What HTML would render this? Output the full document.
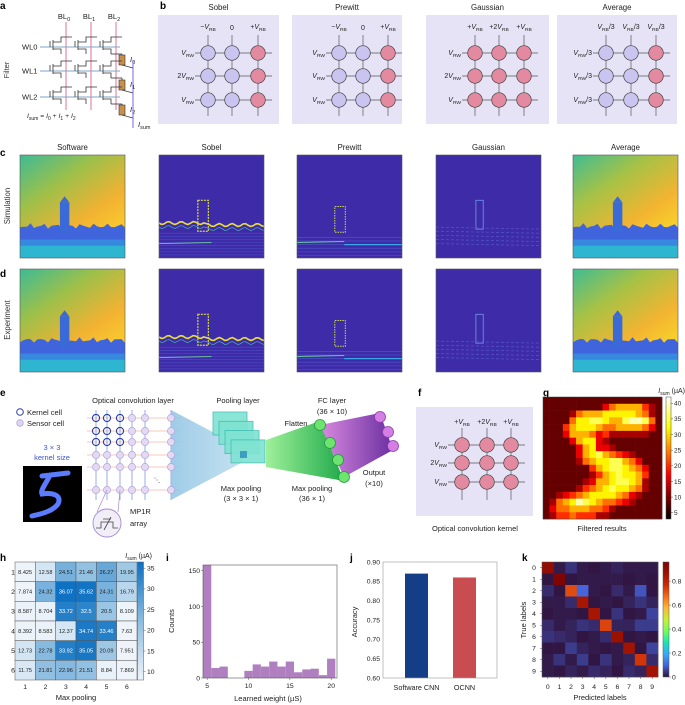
<!DOCTYPE html>
<html><head><meta charset="utf-8">
<style>
html,body{margin:0;padding:0;background:#fff;}
svg{display:block;font-family:"Liberation Sans",sans-serif;}
</style></head>
<body>
<svg id="fig" width="685" height="705" viewBox="0 0 685 705" xmlns="http://www.w3.org/2000/svg">
<defs>
  <linearGradient id="swGrad" x1="0" y1="0" x2="0.7" y2="1">
    <stop offset="0" stop-color="#3dbb95"/><stop offset="0.35" stop-color="#9cc04a"/><stop offset="0.7" stop-color="#f2b232"/><stop offset="1" stop-color="#fcd12c"/>
  </linearGradient>
  <linearGradient id="avGrad" x1="0" y1="0" x2="0.7" y2="1">
    <stop offset="0" stop-color="#3fbd92"/><stop offset="0.35" stop-color="#a6c246"/><stop offset="0.7" stop-color="#f3b431"/><stop offset="1" stop-color="#fadc28"/>
  </linearGradient>
  <linearGradient id="blueWedge" x1="0" y1="0" x2="1" y2="0">
    <stop offset="0" stop-color="#8fc3e3"/><stop offset="1" stop-color="#b9dced"/>
  </linearGradient>
  <linearGradient id="greenWedge" x1="0" y1="0" x2="1" y2="0">
    <stop offset="0" stop-color="#9ff09a"/><stop offset="1" stop-color="#1fa94a"/>
  </linearGradient>
  <linearGradient id="purpleWedge" x1="0" y1="0" x2="1" y2="0">
    <stop offset="0" stop-color="#d98ae0"/><stop offset="1" stop-color="#6a2fa0"/>
  </linearGradient>
  <linearGradient id="turboBar" x1="0" y1="1" x2="0" y2="0">
    <stop offset="0" stop-color="#30123b"/><stop offset="0.1" stop-color="#4662d7"/><stop offset="0.2" stop-color="#36aaf9"/><stop offset="0.3" stop-color="#1ae4b6"/><stop offset="0.4" stop-color="#72fe5e"/><stop offset="0.5" stop-color="#c7ef34"/><stop offset="0.6" stop-color="#fbb938"/><stop offset="0.7" stop-color="#f66b19"/><stop offset="0.8" stop-color="#ca2a04"/><stop offset="0.9" stop-color="#a11201"/><stop offset="1" stop-color="#7a0403"/>
  </linearGradient>
  <linearGradient id="hotBar" x1="0" y1="1" x2="0" y2="0">
    <stop offset="0" stop-color="#000"/><stop offset="0.37" stop-color="#f00"/><stop offset="0.75" stop-color="#ff0"/><stop offset="1" stop-color="#fff"/>
  </linearGradient>
  <linearGradient id="bluesBar" x1="0" y1="1" x2="0" y2="0">
    <stop offset="0" stop-color="#eef4fa"/><stop offset="0.5" stop-color="#8cbde0"/><stop offset="1" stop-color="#0b6fc2"/>
  </linearGradient>
</defs>
</svg>
<script>
// ---------------- DATA ----------------
const hRowLabels=['1','2','3','4','5','6'];
const hColLabels=['1','2','3','4','5','6'];
const hValues=[
 [8.425,12.58,24.51,21.46,26.27,19.95],
 [7.874,24.32,36.07,35.62,24.31,16.79],
 [8.587,8.704,33.72,32.5,20.5,8.109],
 [8.392,8.583,12.37,34.74,33.46,7.63],
 [12.73,22.78,33.92,35.05,20.09,7.951],
 [11.75,21.81,22.96,21.51,8.84,7.869]];
const hTicks=[10,15,20,25,30,35];

const iBinCenters=[5,6,7,8,9,10,11,12,13,14,15,16,17,18,19,20];
const iCounts=[158,14,16,0,0,10,19,16,23,16,23,8,12,13,4,27];
const iXTicks=[5,10,15,20];
const iYTicks=[0,50,100,150];

const jCategories=['Software CNN','OCNN'];
const jValues=[0.87,0.86];
const jTicks=[0.60,0.65,0.70,0.75,0.80,0.85,0.90];
const jColors=['#143f86','#c94d50'];

const kLabels=['0','1','2','3','4','5','6','7','8','9'];
const kMatrix=[
 [0.90,0.01,0.04,0.01,0.005,0.01,0.02,0.01,0.01,0.01],
 [0.005,0.95,0.005,0.01,0.01,0.01,0.01,0.005,0.01,0.005],
 [0.03,0.005,0.72,0.10,0.01,0.005,0.03,0.01,0.08,0.005],
 [0.01,0.01,0.03,0.85,0.005,0.01,0.005,0.02,0.04,0.02],
 [0.005,0.01,0.01,0.005,0.85,0.005,0.04,0.005,0.01,0.06],
 [0.03,0.01,0.02,0.04,0.03,0.73,0.02,0.02,0.05,0.05],
 [0.04,0.03,0.02,0.005,0.01,0.03,0.88,0.005,0.01,0.005],
 [0.005,0.005,0.05,0.02,0.01,0.005,0.01,0.86,0.005,0.06],
 [0.01,0.04,0.01,0.05,0.005,0.04,0.01,0.02,0.75,0.03],
 [0.01,0.005,0.02,0.01,0.03,0.02,0.005,0.03,0.02,0.86]];
const kTicks=[0,0.2,0.4,0.6,0.8];

const gRows=[
 "111111111111111111",
 "111111111356666421",
 "111125666777776521",
 "111157788766899851",
 "111467776556666531",
 "111366653422222211",
 "111136773211111111",
 "111113673321111111",
 "111113678654321111",
 "111112567788653111",
 "111111146788765311",
 "111111124678776411",
 "111111236678876211",
 "111112456787765211",
 "112345677776532111",
 "125679876554321111",
 "135566655421111111",
 "124454442211111111"];
const gTicks=[5,10,15,20,25,30,35,40];

// ---------------- HELPERS ----------------
const NS='http://www.w3.org/2000/svg';
const svg=document.getElementById('fig');
function mk(tag,attrs,parent){const e=document.createElementNS(NS,tag);for(const k in attrs)e.setAttribute(k,attrs[k]);(parent||svg).appendChild(e);return e;}
function tx(x,y,s,size,anchor,extra){const e=mk('text',Object.assign({x:x,y:y,'font-size':size,'text-anchor':anchor||'start',fill:'#222'},extra||{}));e.textContent=s;return e;}
function grp(name){const g=mk('g',{});return g;}
function vlabel(x,y,parts,size,anchor,parent){
  const t=mk('text',{x:x,y:y,'font-size':size,'text-anchor':anchor,fill:'#222'},parent);
  if(parts[0]){const a=mk('tspan',{},t);a.textContent=parts[0];}
  const b=mk('tspan',{'font-style':'italic'},t);b.textContent=parts[1];
  const c=mk('tspan',{'font-size':size*0.7,dy:2},t);c.textContent=parts[2];
  const d=mk('tspan',{dy:-2},t);d.textContent=parts[3]||'\u200b';
  return t;
}
function lerpHex(stops,t){
  t=Math.max(0,Math.min(1,t));const n=stops.length-1;const i=Math.min(n-1,Math.floor(t*n));const f=t*n-i;
  const a=stops[i],b=stops[i+1];
  const p=s=>[parseInt(s.substr(1,2),16),parseInt(s.substr(3,2),16),parseInt(s.substr(5,2),16)];
  const A=p(a),B=p(b);return 'rgb('+A.map((v,k)=>Math.round(v+(B[k]-v)*f)).join(',')+')';
}
const turbo=['#30123b','#4662d7','#36aaf9','#1ae4b6','#72fe5e','#c7ef34','#fbb938','#f66b19','#ca2a04','#a11201','#7a0403'];
const blues=['#eef4fa','#c6def0','#8cbde0','#4a98d1','#0b6fc2'];
function hot(t){t=Math.max(0,Math.min(1,t));const r=Math.min(1,t/0.375),g=Math.max(0,Math.min(1,(t-0.375)/0.375)),b=Math.max(0,Math.min(1,(t-0.75)/0.25));return 'rgb('+Math.round(r*255)+','+Math.round(g*255)+','+Math.round(b*255)+')';}
function plabel(x,y,s){const t=tx(x,y,s,10,'start',{'font-weight':'bold',fill:'#000'});}

// ---------------- PANEL A ----------------
plabel(0,9,'a');
(function(){
  const g=grp('panel-a-circuit');
  const f=mk('text',{x:0,y:0,'font-size':7.5,'text-anchor':'middle',fill:'#333',transform:'translate(9,70) rotate(-90)'},g);f.textContent='Filter';
  const bls=[66,91,116];
  bls.forEach((x,i)=>{
    const t=mk('text',{x:x-2,y:19,'font-size':7.5,'text-anchor':'middle',fill:'#222'},g);
    const a=mk('tspan',{},t);a.textContent='BL';const b=mk('tspan',{'font-size':5.5,dy:2},t);b.textContent=String(i);
    mk('line',{x1:x,y1:22,x2:x,y2:110,stroke:'#e0608a','stroke-width':0.9},g);
  });
  const rows=[47,71,97];
  rows.forEach((y,i)=>{
    const t=tx(22,y+2.5,'WL'+i,7.5,'start');g.appendChild(t);
    mk('line',{x1:40,y1:y,x2:120,y2:y,stroke:'#7fa6c8','stroke-width':1},g);
    bls.forEach(x=>{
      mk('path',{d:`M${x-16},${y} v-6 M${x-13},${y-7} v10 M${x-13},${y-5} h8 v-5 h${16-5} M${x-13},${y+2} h8 v5`,stroke:'#333',fill:'none','stroke-width':0.8},g);
    });
    mk('line',{x1:bls[2]-5,y1:y+7,x2:122,y2:y+7,stroke:'#333','stroke-width':0.8},g);
    const ry=[60,85,110][i];
    mk('line',{x1:122,y1:y+7,x2:122,y2:ry-5,stroke:'#333','stroke-width':0.8},g);
    mk('rect',{x:119,y:ry-5,width:6,height:10,fill:'#c9904c',stroke:'#333','stroke-width':0.6},g);
    mk('line',{x1:122,y1:ry+5,x2:133,y2:ry+8,stroke:'#333','stroke-width':0.8},g);
    const it=mk('text',{x:130,y:ry+2,'font-size':7.5,fill:'#222'},g);
    const a=mk('tspan',{'font-style':'italic'},it);a.textContent='I';const b=mk('tspan',{'font-size':5.5,dy:2},it);b.textContent=String(i);
  });
  mk('line',{x1:133,y1:60,x2:133,y2:128,stroke:'#6a5ad8','stroke-width':0.9},g);
  const is=mk('text',{x:138,y:127,'font-size':7.5,fill:'#222'},g);
  let a=mk('tspan',{'font-style':'italic'},is);a.textContent='I';a=mk('tspan',{'font-size':5.5,dy:2},is);a.textContent='sum';
  const fm=mk('text',{x:27,y:118,'font-size':6.8,fill:'#222'},g);
  [['I','sum',' = '],['I','0',' + '],['I','1',' + '],['I','2','']].forEach(p=>{
    let s=mk('tspan',{'font-style':'italic'},fm);s.textContent=p[0];
    s=mk('tspan',{'font-size':5,dy:2},fm);s.textContent=p[1];
    s=mk('tspan',{dy:-2},fm);s.textContent=p[2]||'\u200b';
  });
})();

// ---------------- PANEL B ----------------
plabel(160,9,'b');
const kernels=[
 {name:'Sobel',x0:158,x1:279,cols:[208,232,258],top:[['−','V','RB',''],['','0','',''],['+','V','RB','']],rows:[['','V','RW',''],['2','V','RW',''],['','V','RW','']],pink:[0,0,1]},
 {name:'Prewitt',x0:292,x1:402,cols:[339,363,388],top:[['−','V','RB',''],['','0','',''],['+','V','RB','']],rows:[['','V','RW',''],['','V','RW',''],['','V','RW','']],pink:[0,0,1]},
 {name:'Gaussian',x0:426,x1:549,cols:[475,499,524],top:[['+','V','RB',''],['+2','V','RB',''],['+','V','RB','']],rows:[['','V','RW',''],['2','V','RW',''],['','V','RW','']],pink:[1,1,1]},
 {name:'Average',x0:557,x1:677,cols:[606,631,656],top:[['','V','RB','/3'],['','V','RB','/3'],['','V','RB','/3']],rows:[['','V','RW','/3'],['','V','RW','/3'],['','V','RW','/3']],pink:[0,0,1]}
];
const bRows=[53,76,100];
kernels.forEach(k=>{
  const g=grp('kernel-'+k.name.toLowerCase());
  const t=tx((k.x0+k.x1)/2,10,k.name,7.8,'middle');g.appendChild(t);
  mk('rect',{x:k.x0,y:15,width:k.x1-k.x0,height:109,fill:'#e6e3f6'},g);
  bRows.forEach(y=>mk('line',{x1:k.cols[0]-13,y1:y,x2:k.cols[2]+14,y2:y,stroke:'#555','stroke-width':0.7},g));
  k.cols.forEach(x=>mk('line',{x1:x,y1:35,x2:x,y2:116,stroke:'#555','stroke-width':0.7},g));
  k.top.forEach((p,i)=>{ if(p[1]==='0'){g.appendChild(tx(k.cols[i],30,'0',7,'middle'));} else vlabel(k.cols[i],29,p,7,'middle',g);});
  k.rows.forEach((p,i)=>vlabel(k.cols[0]-14,bRows[i]+2,p,7,'end',g));
  bRows.forEach(y=>k.cols.forEach((x,i)=>{
    const c=mk('circle',{cx:x,cy:y,r:7.3,fill:k.pink[i]?'#e48aa0':'#c9c4f0',stroke:'#444','stroke-width':0.7},g);
    
    
  }));
});

// ---------------- PANELS C/D ----------------
plabel(0,156,'c');plabel(0,277,'d');
const imgCols=[{name:'Software',x:20},{name:'Sobel',x:159},{name:'Prewitt',x:297},{name:'Gaussian',x:436},{name:'Average',x:573}];
const imgRows=[{name:'simulation',y:155},{name:'experiment',y:269}];
const IW=105,IH=103;
imgCols.forEach(c=>{const t=tx(c.x+IW/2,150,c.name,7.8,'middle');});
(function(){
  let t=mk('text',{'font-size':7.8,'text-anchor':'middle',fill:'#333',transform:'translate(10,206) rotate(-90)'});t.textContent='Simulation';
  
  t=mk('text',{'font-size':7.8,'text-anchor':'middle',fill:'#333',transform:'translate(10,320) rotate(-90)'});t.textContent='Experiment';
  
})();
let clipId=0;
function jag(x,y,w,h,base,amp,seed){let p=`M${x},${y+h} L${x},${y+base*h}`;for(let i=0;i<=30;i++){const xx=x+w*i/30;const yy=y+base*h+amp*Math.sin(i*1.7+seed)+amp*0.6*Math.cos(i*3.1+seed);p+=` L${xx.toFixed(1)},${yy.toFixed(1)}`;}return p+` L${x+w},${y+h} Z`;}
imgRows.forEach((r,ri)=>imgCols.forEach(c=>{
  const g=grp('image-'+r.name+'-'+c.name.toLowerCase());
  const id='clip'+(clipId++);
  const cp=mk('clipPath',{id:id},g);mk('rect',{x:c.x,y:r.y,width:IW,height:IH},cp);
  const gg=mk('g',{'clip-path':`url(#${id})`},g);
  const x=c.x,y=r.y,w=IW,h=IH;
  if(c.name==='Software'||c.name==='Average'){
    mk('rect',{x:x,y:y,width:w,height:h,fill:c.name==='Software'?'url(#swGrad)':'url(#avGrad)'},gg);
    mk('path',{d:jag(x,y,w,h,0.69,1.8,ri),fill:'#3f64dc'},gg);
    mk('rect',{x:x,y:y+0.82*h,width:w,height:0.06*h,fill:'#3597e0',opacity:0.7},gg);
    mk('rect',{x:x,y:y+0.88*h,width:w,height:0.12*h,fill:'#2eb5cf'},gg);
    mk('rect',{x:x+0.38*w,y:y+0.46*h,width:0.09*w,height:0.3*h,fill:'#3a6ad8'},gg);
    mk('path',{d:`M${x+0.38*w},${y+0.46*h} L${x+0.425*w},${y+0.4*h} L${x+0.47*w},${y+0.46*h}Z`,fill:'#3a6ad8'},gg);
  } else {
    mk('rect',{x:x,y:y,width:w,height:h,fill:'#3e2ba8'},gg);
    if(c.name==='Sobel'){
      let p='';for(let i=0;i<=40;i++){const xx=x+w*i/40;const yy=y+0.68*h+1.5*Math.sin(i*1.3)+(i<18?-2:0);p+=(i?' L':'M')+xx.toFixed(1)+','+yy.toFixed(1);}
      mk('path',{d:p,stroke:'#e8e03a',fill:'none','stroke-width':1.6},gg);
      mk('path',{d:p,stroke:'#46c8b0',fill:'none','stroke-width':0.6,transform:'translate(0,4)'},gg);
      mk('rect',{x:x+0.37*w,y:y+0.44*h,width:0.1*w,height:0.3*h,fill:'none',stroke:'#d9d940','stroke-width':1.2,'stroke-dasharray':'2 1'},gg);
      for(let k=0;k<8;k++)mk('line',{x1:x,y1:y+(0.76+k*0.03)*h,x2:x+w,y2:y+(0.76+k*0.03)*h,stroke:'#4f55cc','stroke-width':0.7,opacity:0.7},gg);
      mk('line',{x1:x,y1:y+0.86*h,x2:x+0.5*w,y2:y+0.85*h,stroke:'#6fd0a0','stroke-width':0.8},gg);
    } else if(c.name==='Prewitt'){
      mk('rect',{x:x+0.36*w,y:y+0.5*h,width:0.1*w,height:0.25*h,fill:'none',stroke:'#c9d850','stroke-width':1,'stroke-dasharray':'1.5 1'},gg);
      for(let k=0;k<6;k++)mk('line',{x1:x,y1:y+(0.8+k*0.035)*h,x2:x+w,y2:y+(0.8+k*0.035)*h,stroke:'#5060d0','stroke-width':0.7,opacity:0.7},gg);
      mk('line',{x1:x,y1:y+0.85*h,x2:x+0.45*w,y2:y+0.84*h,stroke:'#6cc8a0','stroke-width':1},gg);
      mk('line',{x1:x+0.45*w,y1:y+0.87*h,x2:x+w,y2:y+0.87*h,stroke:'#39a8e8','stroke-width':1.3},gg);
    } else {
      mk('rect',{x:x+0.38*w,y:y+0.44*h,width:0.07*w,height:0.28*h,fill:'none',stroke:'#6a8ee0','stroke-width':0.9},gg);
      for(let k=0;k<5;k++)mk('line',{x1:x,y1:y+(0.7+k*0.04)*h,x2:x+w,y2:y+(0.72+k*0.04)*h,stroke:'#5a64d0','stroke-width':0.8,opacity:0.7,'stroke-dasharray':'3 2'},gg);
    }
  }
  mk('rect',{x:x,y:y,width:w,height:h,fill:'none',stroke:'#555','stroke-width':0.6},g);
}));

// ---------------- PANEL E ----------------
plabel(0,396,'e');
(function(){
  const g=grp('panel-e-network');
  g.appendChild(tx(133,403,'Optical convolution layer',7.5,'middle'));
  mk('circle',{cx:20,cy:412,r:3.3,fill:'none',stroke:'#2d3fa8','stroke-width':1},g);
  g.appendChild(tx(27,415,'Kernel cell',7.5,'start'));
  mk('circle',{cx:20,cy:423,r:3.3,fill:'#ddd5f2',stroke:'#b7a6df','stroke-width':0.8},g);
  g.appendChild(tx(27,426,'Sensor cell',7.5,'start'));
  g.appendChild(tx(52,450,'3 × 3',7.5,'middle',{fill:'#3a55d8'}));
  g.appendChild(tx(52,460,'kernel size',7.5,'middle',{fill:'#3a55d8'}));
  mk('rect',{x:23,y:466,width:59,height:56,fill:'#000'},g);
  mk('path',{d:'M42,476 L68,473 M50,475 C46,484 40,490 42,494 C54,492 62,496 58,504 C52,512 40,514 32,516',stroke:'#5b7cff','stroke-width':5,fill:'none','stroke-linecap':'round'},g);
  const gr=[418,431,442,455,467,490], gc=[96,107,120,132,145,171];
  gr.forEach(y=>mk('line',{x1:87,y1:y,x2:180,y2:y,stroke:'#f3b9a2','stroke-width':0.8},g));
  gc.forEach(x=>mk('line',{x1:x,y1:410,x2:x,y2:500,stroke:'#7d9ae0','stroke-width':0.8},g));
  mk('polygon',{points:'171,410 243,448 243,462 171,500',fill:'url(#blueWedge)',opacity:0.85},g);
  gr.forEach((y,ri)=>gc.forEach((x,ci)=>{
    const kern=ri<3&&ci<3;
    const c=mk('circle',{cx:x,cy:y,r:3.6,fill:kern?'none':'#e2daf3',stroke:kern?'#2d3fa8':'#b6a3dd','stroke-width':kern?1.1:0.7},g);
    
    
  }));
  g.appendChild(tx(157,482,'⋱',6,'middle'));
  mk('line',{x1:107,y1:490,x2:97,y2:512,stroke:'#a58ad8','stroke-width':0.7},g);
  mk('line',{x1:120,y1:490,x2:118,y2:512,stroke:'#a58ad8','stroke-width':0.7},g);
  mk('circle',{cx:107,cy:523,r:14,fill:'#f1eef8',stroke:'#a58ad8','stroke-width':0.9},g);
  mk('path',{d:'M96,528 h5 v-6 h12 v6 h5 M103,519 h8 M104,530 l7,-13',stroke:'#444',fill:'none','stroke-width':0.8},g);
  g.appendChild(tx(130,514,'MP1R',7.5,'start'));
  g.appendChild(tx(130,526,'array',7.5,'start'));
  g.appendChild(tx(238,403,'Pooling layer',7.5,'middle'));
  for(let s=0;s<4;s++){mk('rect',{x:213+s*6,y:412+s*9.3,width:34,height:23,fill:'#7fe3d2',stroke:'#39b9b0','stroke-width':0.8,opacity:0.9},g);}
  mk('rect',{x:240,y:451,width:7,height:7,fill:'#3d9fc0'},g);
  g.appendChild(tx(241,491,'Max pooling',7.5,'middle'));
  g.appendChild(tx(241,501,'(3 × 3 × 1)',7.5,'middle'));
  const gn=[[320,425],[330,443],[338,460],[344,477]], on=[[380,417],[388,432],[393,446]];
  mk('polygon',{points:`266,440 ${gn[0][0]},${gn[0][1]-4} ${gn[3][0]},${gn[3][1]+4} 266,467`,fill:'url(#greenWedge)'},g);
  mk('polygon',{points:`${gn[0][0]},${gn[0][1]} ${on[0][0]},${on[0][1]-4} ${on[2][0]},${on[2][1]+4} ${gn[3][0]},${gn[3][1]}`,fill:'url(#purpleWedge)'},g);
  gn.forEach(p=>mk('circle',{cx:p[0],cy:p[1],r:5.5,fill:'#6fe36f',stroke:'#1e9e3e','stroke-width':0.8},g));
  on.forEach(p=>mk('circle',{cx:p[0],cy:p[1],r:5.5,fill:'#d57ee3',stroke:'#8a3ab0','stroke-width':0.8},g));
  g.appendChild(tx(296,426,'Flatten',7.5,'middle'));
  g.appendChild(tx(332,403,'FC layer',7.5,'middle'));
  g.appendChild(tx(332,414,'(36 × 10)',7.5,'middle'));
  g.appendChild(tx(374,475,'Output',7.5,'middle'));
  g.appendChild(tx(374,486,'(×10)',7.5,'middle'));
  g.appendChild(tx(312,491,'Max pooling',7.5,'middle'));
  g.appendChild(tx(312,501,'(36 × 1)',7.5,'middle'));
})();

// ---------------- PANEL F ----------------
plabel(418,396,'f');
(function(){
  const g=grp('panel-f-kernel');
  mk('rect',{x:416,y:407,width:117,height:109,fill:'#e6e3f6'},g);
  const cols=[462,487,511], rows=[445,463,482];
  rows.forEach(y=>mk('line',{x1:448,y1:y,x2:525,y2:y,stroke:'#555','stroke-width':0.7},g));
  cols.forEach(x=>mk('line',{x1:x,y1:428,x2:x,y2:500,stroke:'#555','stroke-width':0.7},g));
  [['+','V','RB',''],['+2','V','RB',''],['+','V','RB','']].forEach((p,i)=>vlabel(cols[i],424,p,7,'middle',g));
  [['','V','RW',''],['2','V','RW',''],['','V','RW','']].forEach((p,i)=>vlabel(447,rows[i]+2,p,7,'end',g));
  rows.forEach(y=>cols.forEach(x=>{const c=mk('circle',{cx:x,cy:y,r:7.3,fill:'#e48aa0',stroke:'#444','stroke-width':0.7},g);}));
  g.appendChild(tx(475,531,'Optical convolution kernel',7.5,'middle'));
})();

// ---------------- PANEL G ----------------
plabel(543,396,'g');
(function(){
  const g=grp('panel-g-heatmap');
  const X0=543,X1=662,Y0=397,Y1=519,VMIN=3,VMAX=42;
  const nr=gRows.length,nc=gRows[0].length,cw=(X1-X0)/nc,ch=(Y1-Y0)/nr;
  gRows.forEach((row,r)=>row.split('').forEach((d,c)=>{
    const v=5+3.8*(+d);
    const e=mk('rect',{x:X0+c*cw,y:Y0+r*ch,width:cw+0.3,height:ch+0.3,fill:hot((v-VMIN)/(VMAX-VMIN))},g);
    
    
  }));
  mk('rect',{x:X0,y:Y0,width:X1-X0,height:Y1-Y0,fill:'none',stroke:'#444','stroke-width':0.5},g);
  const cb=mk('rect',{x:666,y:Y0,width:5,height:Y1-Y0,fill:'url(#hotBar)',stroke:'#444','stroke-width':0.5},g);
  
  const sy=v=>Y1-(v-VMIN)/(VMAX-VMIN)*(Y1-Y0);
  gTicks.forEach(v=>{mk('line',{x1:671,y1:sy(v),x2:673,y2:sy(v),stroke:'#444','stroke-width':0.5},g);g.appendChild(tx(674,sy(v)+2.3,String(v),6.5,'start'));});
  const it=mk('text',{x:685,y:393,'font-size':7,'text-anchor':'end',fill:'#222'},g);
  let s=mk('tspan',{'font-style':'italic'},it);s.textContent='I';s=mk('tspan',{'font-size':5,dy:2},it);s.textContent='sum';s=mk('tspan',{dy:-2},it);s.textContent=' (µA)';
  g.appendChild(tx(602,531,'Filtered results',7.5,'middle'));
})();

// ---------------- PANEL H ----------------
plabel(0,561,'h');
(function(){
  const g=grp('panel-h-heatmap');
  const X0=15,X1=137,Y0=562,Y1=680,VMIN=8,VMAX=36.5;
  const cw=(X1-X0)/hColLabels.length,ch=(Y1-Y0)/hRowLabels.length;
  hValues.forEach((row,r)=>row.forEach((v,c)=>{
    const e=mk('rect',{x:X0+c*cw,y:Y0+r*ch,width:cw,height:ch,fill:lerpHex(blues,(v-VMIN)/(VMAX-VMIN)),stroke:'#555','stroke-width':0.5},g);
    
    
    g.appendChild(tx(X0+c*cw+cw/2,Y0+r*ch+ch/2+2,String(v),5.6,'middle',{fill:v>30?'#fff':'#222'}));
  }));
  hRowLabels.forEach((l,r)=>g.appendChild(tx(13,Y0+r*ch+ch/2+2.5,l,6.8,'middle')));
  hColLabels.forEach((l,c)=>g.appendChild(tx(X0+c*cw+cw/2,689,l,6.8,'middle')));
  g.appendChild(tx(76,700,'Max pooling',7.5,'middle'));
  mk('rect',{x:137.5,y:Y0,width:6,height:Y1-Y0,fill:'url(#bluesBar)',stroke:'#555','stroke-width':0.5},g);
  const sy=v=>Y1-(v-VMIN)/(VMAX-VMIN)*(Y1-Y0);
  hTicks.forEach(v=>{mk('line',{x1:143.5,y1:sy(v),x2:145.5,y2:sy(v),stroke:'#555','stroke-width':0.5},g);g.appendChild(tx(147,sy(v)+2.3,String(v),6.8,'start'));});
  const it=mk('text',{x:152,y:558,'font-size':7,'text-anchor':'end',fill:'#222'},g);
  let s=mk('tspan',{'font-style':'italic'},it);s.textContent='I';s=mk('tspan',{'font-size':5,dy:2},it);s.textContent='sum';s=mk('tspan',{dy:-2},it);s.textContent=' (µA)';
})();

// ---------------- PANEL I ----------------
plabel(166,561,'i');
(function(){
  const g=grp('panel-i-histogram');
  const X0=203,X1=337,Y0=565,Y1=678,XMIN=4.5,XMAX=20.7,YMAX=158;
  const sx=v=>X0+(v-XMIN)/(XMAX-XMIN)*(X1-X0), sy=v=>Y1-v/YMAX*(Y1-Y0);
  iBinCenters.forEach((c,i)=>{
    if(iCounts[i]<=0)return;
    const b=mk('rect',{x:sx(c-0.5),y:sy(Math.min(iCounts[i],YMAX)),width:sx(c+0.5)-sx(c-0.5),height:Y1-sy(Math.min(iCounts[i],YMAX)),fill:'#b07fc0'},g);
    
    
  });
  mk('rect',{x:X0,y:Y0,width:X1-X0,height:Y1-Y0,fill:'none',stroke:'#555','stroke-width':0.6},g);
  iXTicks.forEach(v=>{mk('line',{x1:sx(v),y1:Y1,x2:sx(v),y2:Y1+2,stroke:'#555','stroke-width':0.5},g);g.appendChild(tx(sx(v),688,String(v),6.8,'middle'));});
  iYTicks.forEach(v=>{mk('line',{x1:X0-2,y1:sy(v),x2:X0,y2:sy(v),stroke:'#555','stroke-width':0.5},g);g.appendChild(tx(X0-3,sy(v)+2.3,String(v),6.8,'end'));});
  const yt=mk('text',{'font-size':7.5,'text-anchor':'middle',fill:'#222',transform:'translate(174,621) rotate(-90)'},g);yt.textContent='Counts';
  g.appendChild(tx(268,701,'Learned weight (µS)',7.5,'middle'));
})();

// ---------------- PANEL J ----------------
plabel(350,561,'j');
(function(){
  const g=grp('panel-j-bar-chart');
  const X0=383,X1=497,Y0=562,Y1=678,YMIN=0.6,YMAX=0.9;
  const sy=v=>Y1-(v-YMIN)/(YMAX-YMIN)*(Y1-Y0);
  const bw=23,centers=[X0+(X1-X0)*0.25+5,X0+(X1-X0)*0.75-4];
  jCategories.forEach((c,i)=>{
    const b=mk('rect',{x:centers[i]-bw/2,y:sy(jValues[i]),width:bw,height:Y1-sy(jValues[i]),fill:jColors[i]},g);
    
    
    g.appendChild(tx(centers[i],690,c,7.2,'middle'));
  });
  mk('rect',{x:X0,y:Y0,width:X1-X0,height:Y1-Y0,fill:'none',stroke:'#999','stroke-width':0.6},g);
  jTicks.forEach(v=>g.appendChild(tx(X0-3,sy(v)+2.3,v.toFixed(2),6.8,'end')));
  const yt=mk('text',{'font-size':7.5,'text-anchor':'middle',fill:'#222',transform:'translate(357,622) rotate(-90)'},g);yt.textContent='Accuracy';
})();

// ---------------- PANEL K ----------------
plabel(522,561,'k');
(function(){
  const g=grp('panel-k-confusion-matrix');
  const X0=542,X1=658,Y0=562,Y1=677,VMAX=0.96;
  const n=kLabels.length,cw=(X1-X0)/n,ch=(Y1-Y0)/n;
  kMatrix.forEach((row,r)=>row.forEach((v,c)=>{
    const e=mk('rect',{x:X0+c*cw,y:Y0+r*ch,width:cw+0.3,height:ch+0.3,fill:lerpHex(turbo,v/VMAX)},g);
    
    
  }));
  mk('rect',{x:X0,y:Y0,width:X1-X0,height:Y1-Y0,fill:'none',stroke:'#555','stroke-width':0.5},g);
  kLabels.forEach((l,i)=>{
    g.appendChild(tx(534,Y0+i*ch+ch/2+2.4,l,6.8,'middle'));
    g.appendChild(tx(X0+i*cw+cw/2,689,l,6.8,'middle'));
    mk('line',{x1:X0-2,y1:Y0+i*ch+ch/2,x2:X0,y2:Y0+i*ch+ch/2,stroke:'#555','stroke-width':0.5},g);
    mk('line',{x1:X0+i*cw+cw/2,y1:Y1,x2:X0+i*cw+cw/2,y2:Y1+2,stroke:'#555','stroke-width':0.5},g);
  });
  const yt=mk('text',{'font-size':7.5,'text-anchor':'middle',fill:'#222',transform:'translate(526,620) rotate(-90)'},g);yt.textContent='True labels';
  g.appendChild(tx(600,700,'Predicted labels',7.5,'middle'));
  const cb=mk('rect',{x:663,y:Y0,width:6,height:Y1-Y0,fill:'url(#turboBar)',stroke:'#555','stroke-width':0.5},g);
  
  const sy=v=>Y1-v/VMAX*(Y1-Y0);
  kTicks.forEach(v=>{mk('line',{x1:669,y1:sy(v),x2:671,y2:sy(v),stroke:'#555','stroke-width':0.5},g);g.appendChild(tx(672,sy(v)+2.3,String(v),6.8,'start'));});
})();
</script>
</body></html>
